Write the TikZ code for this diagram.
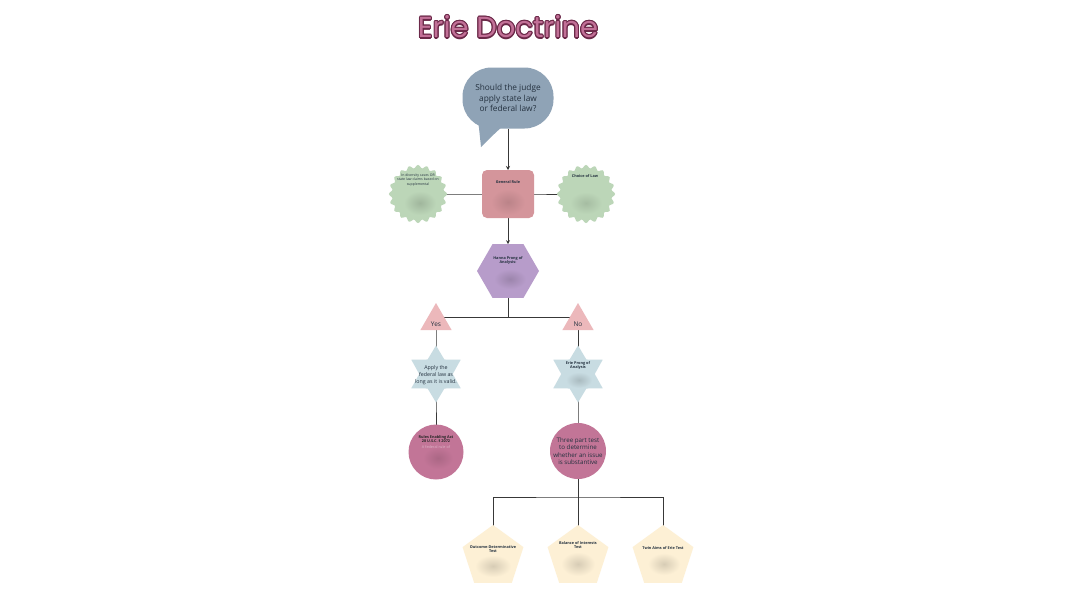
\documentclass[tikz,border=0pt]{standalone}
\usepackage{fontspec}
\setmainfont{Open Sans}
\newfontfamily\titlefont{Poppins}
\usetikzlibrary{shapes.geometric,backgrounds,arrows.meta}
\definecolor{bub}{HTML}{8FA3B6}
\definecolor{bubtxt}{HTML}{24313F}
\definecolor{rule}{HTML}{D4959B}
\definecolor{grn}{HTML}{BCD6B8}
\definecolor{hexc}{HTML}{B79CCA}
\definecolor{tri}{HTML}{ECB8BB}
\definecolor{blu}{HTML}{C8DCE2}
\definecolor{mauve}{HTML}{C27597}
\definecolor{cream}{HTML}{FDF0D5}
\definecolor{titfill}{HTML}{C27097}
\definecolor{titout}{HTML}{6B2848}
\definecolor{lnc}{HTML}{383838}
\tikzset{
  ln/.style={draw=lnc, line width=0.9pt},
  arr/.style={ln, -{Stealth[length=4pt,width=4pt]}},
  shp/.style={inner sep=0pt, outer sep=0pt, draw=none},
  txt/.style={align=center, inner sep=0pt, text=bubtxt},
  hd/.style={txt, font=\fontsize{3.8}{4.6}\selectfont\bfseries},
  titlestyle/.style={inner sep=0pt, font=\titlefont\fontsize{29}{33}\selectfont}
}
\begin{document}
\begin{tikzpicture}[x=1pt,y=-1pt]
\begin{pgfonlayer}{background}
\fill[white] (0,0) rectangle (1080,595);
\end{pgfonlayer}
\useasboundingbox (0,0) rectangle (1080,595);
% title
\foreach \a in {0,30,...,330}
  \node[titlestyle, text=titout] at ({508+1.1*cos(\a)},{27+1.1*sin(\a)}) {Erie Doctrine};
\node[titlestyle, text=titfill] (title) at (508,27) {Erie Doctrine};
% speech bubble
\fill[bub] (477,115) -- (479,128) .. controls (480,137) .. (481,147) .. controls (488,140) and (495,133) .. (503,126) -- cycle;
\node[shp, fill=bub, rounded corners=29pt, minimum width=91pt, minimum height=61pt] (q) at (508,98) {};
\node[txt, font=\fontsize{8.3}{10.6}\selectfont] at (q) {Should the judge\\apply state law\\or federal law?};
% general rule
\node[shp, fill=rule, rounded corners=5pt, minimum width=52pt, minimum height=48pt] (gr) at (508,194) {};
\shade[inner color=rule!80!black!60!rule, outer color=rule] (508,202) ellipse (17 and 13);
\node[hd] at (508,182) {General Rule};
% green scallops
\fill[grn, shift={(418,194)}] plot[domain=0:357.5, samples=144, smooth cycle] (\x:{27.5+1.6*cos(20*\x)});
\node[shp, circle, minimum size=55pt] (gL) at (418,194) {};
\shade[inner color=grn!85!black, outer color=grn] (420,203) ellipse (16 and 12);
\node[txt, font=\fontsize{3.5}{4.2}\selectfont] at (418,180) {In diversity cases OR\\state law claims based on\\supplemental};
\fill[grn, shift={(586,194)}] plot[domain=0:357.5, samples=144, smooth cycle] (\x:{27.5+1.6*cos(20*\x)});
\node[shp, circle, minimum size=55pt] (gR) at (586,194) {};
\shade[inner color=grn!88!black, outer color=grn] (586,203) ellipse (16 and 11);
\node[hd] at (585,176) {Choice of Law};
% hexagon
\node[shp, regular polygon, regular polygon sides=6, minimum size=62pt, fill=hexc] (hx) at (508,271) {};
\shade[inner color=hexc!85!black, outer color=hexc] (510,279) ellipse (16 and 10);
\node[hd] at (508,260.5) {Hanna Prong of\\Analysis:};
% triangles
\node[shp, regular polygon, regular polygon sides=3, minimum size=36pt, fill=tri] (tY) at (436,321) {};
\node[txt, font=\fontsize{6.5}{7}\selectfont] at (436,324) {Yes};
\node[shp, regular polygon, regular polygon sides=3, minimum size=36pt, fill=tri] (tN) at (578,321) {};
\node[txt, font=\fontsize{6.5}{7}\selectfont] at (578,324) {No};
\coordinate (j1) at (508,317);
% stars
\node[shp, star, star points=6, star point ratio=1.7, minimum size=57pt, fill=blu] (sY) at (436,374) {};
\node[txt, font=\fontsize{5.3}{7}\selectfont] at (436,375) {Apply the\\federal law as\\long as it is valid.};
\node[shp, star, star points=6, star point ratio=1.7, minimum size=57pt, fill=blu] (sN) at (578,374) {};
\shade[inner color=blu!85!black, outer color=blu] (579,380) ellipse (13 and 8);
\node[hd] at (578,365.5) {Erie Prong of\\Analysis};
% circles
\node[shp, circle, minimum size=55pt, fill=mauve] (cY) at (436,452) {};
\shade[inner color=mauve!88!black, outer color=mauve] (438,458) ellipse (15 and 11);
\node[hd, text=black!85] at (436,439) {Rules Enabling Act\\28 U.S.C. § 2072};
\node[txt, font=\fontsize{3.8}{4.6}\selectfont, text=mauve!55!white] at (436,447.5) {A federal rule of};
\node[shp, circle, minimum size=56pt, fill=mauve] (cN) at (578,451) {};
\node[txt, font=\fontsize{6.2}{7.4}\selectfont] at (578,451) {Three part test\\to determine\\whether an issue\\is substantive};
\coordinate (j2) at (578,497);
% pentagons
\node[shp, regular polygon, regular polygon sides=5, minimum size=64pt, fill=cream] (p1) at (493,557) {};
\shade[inner color=cream!85!black, outer color=cream] (493,566) ellipse (18 and 11);
\node[hd] at (493,549) {Outcome-Determinative\\Test};
\node[shp, regular polygon, regular polygon sides=5, minimum size=64pt, fill=cream] (p2) at (578,557) {};
\shade[inner color=cream!85!black, outer color=cream] (578,564) ellipse (17 and 12);
\node[hd] at (578,545) {Balance of Interests\\Test};
\node[shp, regular polygon, regular polygon sides=5, minimum size=64pt, fill=cream] (p3) at (663,557) {};
\shade[inner color=cream!85!black, outer color=cream] (664,564) ellipse (16 and 11);
\node[hd] at (663,548) {Twin Aims of Erie Test};
% connectors
\begin{pgfonlayer}{background}
\draw[arr] (q.south) -- (gr.north);
\draw[ln] (gL.center) -- (gr.center) -- (gR.center);
\draw[arr] (gr.south) -- (hx.north);
\draw[ln] (hx.center) -- (j1);
\draw[ln] (tY |- j1) -- (tN |- j1);
\draw[ln] (tY.center) -- (sY.center) -- (cY.center);
\draw[ln] (tN.center) -- (sN.center) -- (cN.center) -- (j2);
\draw[ln] (p1.center) |- (j2) -| (p3.center);
\draw[ln] (j2) -- (p2.center);
\end{pgfonlayer}
\end{tikzpicture}
\end{document}
